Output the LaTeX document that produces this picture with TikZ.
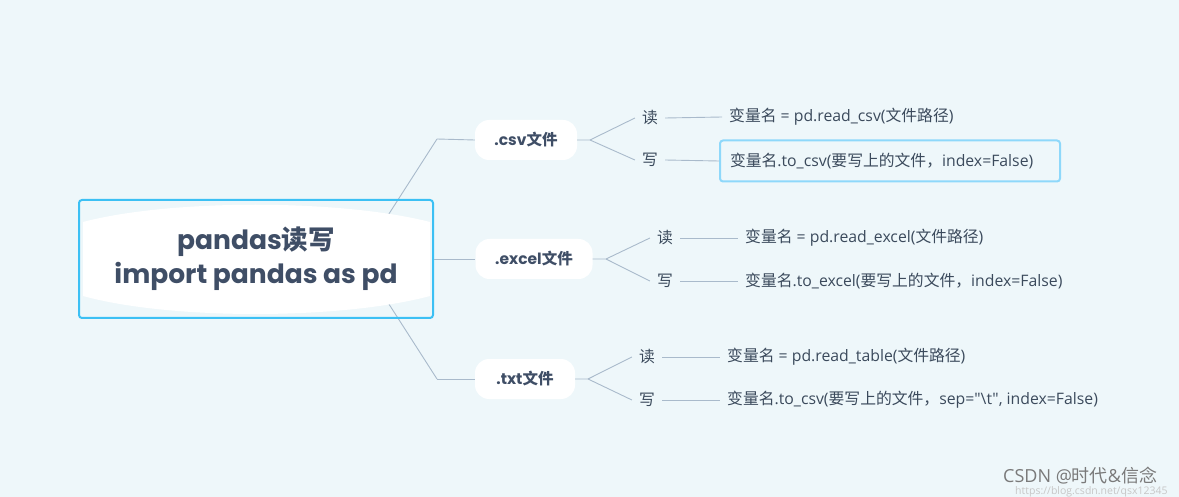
\documentclass[tikz,border=0pt]{standalone}
\usepackage{fontspec}
\newfontfamily\cjk{Noto Sans CJK SC}
\newfontfamily\lat{Open Sans}
\newfontfamily\head{Poppins}
\newcommand\Cj[1]{{\cjk #1}}
\definecolor{bg}{HTML}{EEF7FA}
\definecolor{txt}{HTML}{3B4A5C}
\definecolor{headc}{HTML}{3F4E66}
\definecolor{linec}{HTML}{A9BACB}
\definecolor{mainb}{HTML}{3CC0F4}
\definecolor{hlb}{HTML}{8ED8FA}
\begin{document}
\begin{tikzpicture}[x=1pt,y=-1pt,
  conn/.style={draw=linec, line width=0.9pt},
  mainbox/.style={draw=mainb, line width=2pt, rounded corners=3pt, minimum width=354pt, minimum height=118pt, align=center, text=headc, font=\fontsize{26.5}{34}\selectfont\bfseries},
  branch/.style={fill=white, rounded corners=14pt, minimum height=40pt, text=headc, font=\fontsize{15.5}{17}\selectfont\bfseries},
  rw/.style={text=txt, inner xsep=7pt, inner ysep=2pt, font=\fontsize{15.8}{17}\selectfont\cjk},
  code/.style={anchor=west, text=txt, inner xsep=7pt, inner ysep=2pt, font=\fontsize{15.8}{17}\selectfont\lat},
  hlbox/.style={anchor=west, draw=hlb, line width=2pt, rounded corners=3pt, text width=320pt, inner xsep=10pt, minimum height=41pt, align=left, text=txt, font=\fontsize{15.8}{17}\selectfont\lat}
]
\useasboundingbox (0,0) rectangle (1179,497);
\fill[bg] (0,0) rectangle (1179,497);
% connectors from main
\coordinate (o) at (360,259);
\coordinate (e1) at (437,139);
\coordinate (e3) at (437,379);
\path[conn] (o) -- (e1);
\path[conn] (o) -- (e3);
% white inner shape of main node
\fill[white] (83,222) .. controls (170,199) and (340,199) .. (430,222) -- (430,296) .. controls (340,320) and (170,320) .. (83,296) -- cycle;
\node[mainbox] (main) at (256,259) {{\head pandas}{\cjk 读写}\\{\head import pandas as pd}};
% branch nodes
\node[branch, minimum width=102pt] (csv) at (526,140) {{\head .csv}{\cjk 文件}};
\node[branch, minimum width=117pt] (excel) at (534,259) {{\head .excel}{\cjk 文件}};
\node[branch, minimum width=100pt] (txtn) at (525,379) {{\head .txt}{\cjk 文件}};
\draw[conn] (e1) -- (csv.west);
\draw[conn] (main.east) -- (excel.west);
\draw[conn] (e3) -- (txtn.west);
% csv
\coordinate (b1) at (590,140);
\node[rw] (r1) at (650,118) {读};
\node[rw] (w1) at (650,160) {写};
\node[code] (r1t) at (722,117) {\Cj{变量名} = pd.read\_csv(\Cj{文件路径})};
\node[hlbox] (w1t) at (719,161) {\Cj{变量名}.to\_csv(\Cj{要写上的文件，}index=False)};
\draw[conn] (csv.east) -- (b1) -- (r1.west);
\draw[conn] (b1) -- (w1.west);
\draw[conn] (r1.east) -- (r1t.west);
\draw[conn] (w1.east) -- (w1t.west);
% excel
\coordinate (b2) at (606,259);
\node[rw] (r2) at (665,238) {读};
\node[rw] (w2) at (665,281) {写};
\node[code] (r2t) at (738,238) {\Cj{变量名} = pd.read\_excel(\Cj{文件路径})};
\node[code] (w2t) at (738,281) {\Cj{变量名}.to\_excel(\Cj{要写上的文件，}index=False)};
\draw[conn] (excel.east) -- (b2) -- (r2.west);
\draw[conn] (b2) -- (w2.west);
\draw[conn] (r2.east) -- (r2t.west);
\draw[conn] (w2.east) -- (w2t.west);
% txt
\coordinate (b3) at (588,379);
\node[rw] (r3) at (647,357) {读};
\node[rw] (w3) at (647,400) {写};
\node[code] (r3t) at (720,357) {\Cj{变量名} = pd.read\_table(\Cj{文件路径})};
\node[code] (w3t) at (720,400) {\Cj{变量名}.to\_csv(\Cj{要写上的文件，}sep="\textbackslash t", index=False)};
\draw[conn] (txtn.east) -- (b3) -- (r3.west);
\draw[conn] (b3) -- (w3.west);
\draw[conn] (r3.east) -- (r3t.west);
\draw[conn] (w3.east) -- (w3t.west);
% watermark
\node[anchor=west, inner sep=0pt, text=black!22, font=\fontsize{10.5}{12}\selectfont\lat] (url) at (1015,492) {https://blog.csdn.net/qsx12345};
\node[anchor=west, inner sep=0pt, text=black!52, font=\fontsize{18}{20}\selectfont\lat] (wm) at (1003,476) {CSDN @\Cj{时代}\&\Cj{信念}};
\end{tikzpicture}
\end{document}
